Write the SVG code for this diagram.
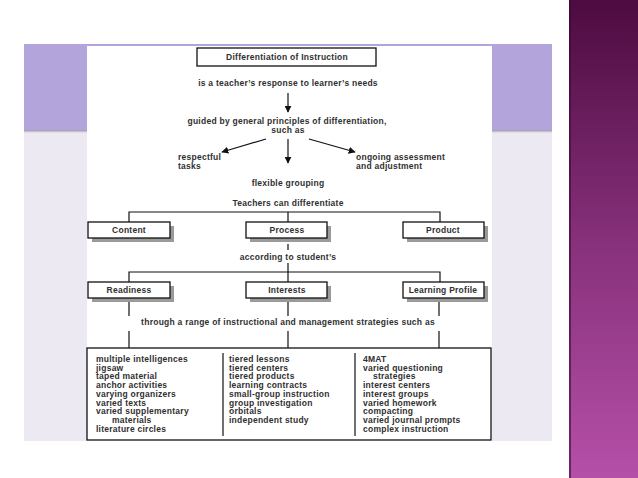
<svg xmlns="http://www.w3.org/2000/svg" width="638" height="478" viewBox="0 0 638 478">
<defs>
<linearGradient id="bar" x1="0" y1="0" x2="0" y2="1">
<stop offset="0" stop-color="#4d0b40"/>
<stop offset="0.5" stop-color="#86307a"/>
<stop offset="1" stop-color="#b550a8"/>
</linearGradient>
<linearGradient id="bandShadow" x1="0" y1="0" x2="0" y2="1">
<stop offset="0" stop-color="#9c94ae"/>
<stop offset="1" stop-color="#ece9f3"/>
</linearGradient>
<marker id="ah" viewBox="0 0 10 10" refX="9" refY="5" markerWidth="7" markerHeight="7" markerUnits="userSpaceOnUse" orient="auto">
<path d="M0,0 L10,5 L0,10 z" fill="#111"/>
</marker>
</defs>
<style>
text{font-family:"Liberation Sans",Arial,sans-serif;font-size:8.5px;letter-spacing:0.25px;font-weight:bold;fill:#303030}
.c{text-anchor:middle}
.box{fill:#fff;stroke:#111;stroke-width:1.3}
.sh{fill:#9a9a9a}
.ln{stroke:#111;stroke-width:1.2;fill:none}
</style>
<rect width="638" height="478" fill="#fff"/>
<rect x="24" y="44" width="528" height="397" fill="#ece9f3"/>
<rect x="24" y="44" width="528" height="86" fill="#b3a5dc"/>
<rect x="24" y="130" width="528" height="3" fill="url(#bandShadow)"/>
<rect x="87" y="46" width="405" height="395" fill="#fff"/>
<rect x="569" y="0" width="69" height="478" fill="url(#bar)"/>
<rect x="569" y="0" width="2" height="478" fill="#3a0830" opacity="0.6"/>

<g id="connectors">
<line class="ln" x1="288" y1="93" x2="288" y2="112" marker-end="url(#ah)"/>
<line class="ln" x1="266" y1="139" x2="222" y2="152" marker-end="url(#ah)"/>
<line class="ln" x1="288" y1="139" x2="288" y2="163" marker-end="url(#ah)"/>
<line class="ln" x1="309" y1="139" x2="355" y2="152" marker-end="url(#ah)"/>
<path class="ln" d="M129,222 V212 H440 V222 M288,212 V222"/>
<path class="ln" d="M288,244 V250 M288,263 V272 M129,282 V272 H440 V282 M288,272 V282"/>
<path class="ln" d="M129,302 V316 M288,302 V316 M439,302 V316"/>
<path class="ln" d="M129,331 V348 M288,331 V348 M439,331 V348"/>
</g>

<g id="title">
<rect class="box" x="197" y="48" width="179" height="18"/>
<text class="c" x="287" y="60">Differentiation of Instruction</text>
</g>
<g id="response"><text class="c" x="288" y="86">is a teacher’s response to learner’s needs</text></g>
<g id="guided">
<text class="c" x="287" y="124">guided by general principles of differentiation,</text>
<text class="c" x="288" y="133">such as</text>
</g>
<g id="respectful"><text x="178" y="160">respectful</text><text x="178" y="169">tasks</text></g>
<g id="ongoing"><text x="356" y="160">ongoing assessment</text><text x="356" y="169">and adjustment</text></g>
<g id="flexible"><text class="c" x="288" y="186">flexible grouping</text></g>
<g id="teachers"><text class="c" x="288" y="206">Teachers can differentiate</text></g>

<g id="content"><rect class="sh" x="92" y="226" width="82" height="16"/><rect class="box" x="88" y="222" width="82" height="16"/><text class="c" x="129" y="233">Content</text></g>
<g id="process"><rect class="sh" x="250" y="226" width="81" height="16"/><rect class="box" x="246" y="222" width="81" height="16"/><text class="c" x="287" y="233">Process</text></g>
<g id="product"><rect class="sh" x="407" y="226" width="81" height="16"/><rect class="box" x="403" y="222" width="81" height="16"/><text class="c" x="443" y="233">Product</text></g>

<g id="according"><text class="c" x="288" y="260">according to student’s</text></g>

<g id="readiness"><rect class="sh" x="92" y="286" width="82" height="16"/><rect class="box" x="88" y="282" width="82" height="16"/><text class="c" x="129" y="293">Readiness</text></g>
<g id="interests"><rect class="sh" x="250" y="286" width="81" height="16"/><rect class="box" x="246" y="282" width="81" height="16"/><text class="c" x="287" y="293">Interests</text></g>
<g id="profile"><rect class="sh" x="407" y="286" width="81" height="16"/><rect class="box" x="403" y="282" width="81" height="16"/><text class="c" x="443" y="293">Learning Profile</text></g>

<g id="through"><text class="c" x="288" y="325">through a range of instructional and management strategies such as</text></g>

<g id="strategies">
<rect class="box" x="87" y="348" width="404" height="92"/>
<line class="ln" x1="223" y1="353" x2="223" y2="436"/>
<line class="ln" x1="355" y1="353" x2="355" y2="436"/>
<text x="96" y="362">multiple intelligences</text>
<text x="96" y="370.7">jigsaw</text>
<text x="96" y="379.4">taped material</text>
<text x="96" y="388.1">anchor activities</text>
<text x="96" y="396.8">varying organizers</text>
<text x="96" y="405.5">varied texts</text>
<text x="96" y="414.2">varied supplementary</text>
<text x="112" y="422.9">materials</text>
<text x="96" y="431.6">literature circles</text>
<text x="229" y="362">tiered lessons</text>
<text x="229" y="370.7">tiered centers</text>
<text x="229" y="379.4">tiered products</text>
<text x="229" y="388.1">learning contracts</text>
<text x="229" y="396.8">small-group instruction</text>
<text x="229" y="405.5">group investigation</text>
<text x="229" y="414.2">orbitals</text>
<text x="229" y="422.9">independent study</text>
<text x="363" y="362">4MAT</text>
<text x="363" y="370.7">varied questioning</text>
<text x="373" y="379.4">strategies</text>
<text x="363" y="388.1">interest centers</text>
<text x="363" y="396.8">interest groups</text>
<text x="363" y="405.5">varied homework</text>
<text x="363" y="414.2">compacting</text>
<text x="363" y="422.9">varied journal prompts</text>
<text x="363" y="431.6">complex instruction</text>
</g>
</svg>
